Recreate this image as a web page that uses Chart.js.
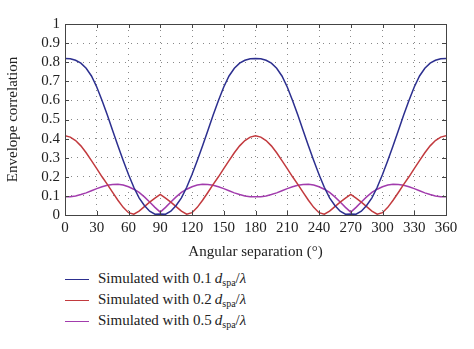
<!DOCTYPE html>
<html>
<head>
<meta charset="utf-8">
<script src="https://cdn.jsdelivr.net/npm/chart.js@4/dist/chart.umd.min.js"></script>
<style>
  body { margin: 0; background: #fff; }
  #wrap { position: relative; width: 474px; height: 265px; }
  #legend { position: absolute; left: 65px; top: 268px; font-family: "Liberation Serif", serif; font-size: 15px; color: #222; }
  .row { height: 21px; line-height: 21px; white-space: nowrap; }
  .sw { display: inline-block; width: 24px; height: 0; border-top: 1.5px solid; vertical-align: middle; margin-right: 9px; }
  sub { font-size: 10px; vertical-align: -3px; line-height: 0; }
</style>
</head>
<body>
<div id="wrap"><canvas id="chart"></canvas></div>
<div id="legend"></div>
<script>
const angles = [0, 5, 10, 15, 20, 25, 30, 35, 40, 45, 50, 55, 60, 65, 70, 75, 80, 85, 90,
	95, 100, 105, 110, 115, 120, 125, 130, 135, 140, 145, 150, 155, 160, 165, 170, 175, 180,
	185, 190, 195, 200, 205, 210, 215, 220, 225, 230, 235, 240, 245, 250, 255, 260, 265, 270,
	275, 280, 285, 290, 295, 300, 305, 310, 315, 320, 325, 330, 335, 340, 345, 350, 355, 360];

const blueData = [0.82, 0.818, 0.81, 0.795, 0.768, 0.728, 0.67, 0.6, 0.523, 0.443, 0.363, 0.285, 0.212, 0.145, 0.09, 0.05, 0.02, 0.004, 0.005,
	0.004, 0.02, 0.05, 0.09, 0.145, 0.212, 0.285, 0.363, 0.443, 0.523, 0.6, 0.67, 0.728, 0.768, 0.795, 0.81, 0.818, 0.82,
	0.818, 0.81, 0.795, 0.768, 0.728, 0.67, 0.6, 0.523, 0.443, 0.363, 0.285, 0.212, 0.145, 0.09, 0.05, 0.02, 0.004, 0.005,
	0.004, 0.02, 0.05, 0.09, 0.145, 0.212, 0.285, 0.363, 0.443, 0.523, 0.6, 0.67, 0.728, 0.768, 0.795, 0.81, 0.818, 0.82];

const redData = [0.415, 0.408, 0.39, 0.362, 0.326, 0.285, 0.243, 0.2, 0.16, 0.118, 0.077, 0.04, 0.012, 0.004, 0.02, 0.044, 0.067, 0.088, 0.108,
	0.088, 0.067, 0.044, 0.02, 0.004, 0.012, 0.04, 0.077, 0.118, 0.16, 0.2, 0.243, 0.285, 0.326, 0.362, 0.39, 0.408, 0.415,
	0.408, 0.39, 0.362, 0.326, 0.285, 0.243, 0.2, 0.16, 0.118, 0.077, 0.04, 0.012, 0.004, 0.02, 0.044, 0.067, 0.088, 0.108,
	0.088, 0.067, 0.044, 0.02, 0.004, 0.012, 0.04, 0.077, 0.118, 0.16, 0.2, 0.243, 0.285, 0.326, 0.362, 0.39, 0.408, 0.415];

const purpleData = [0.095, 0.096, 0.1, 0.107, 0.116, 0.127, 0.138, 0.148, 0.156, 0.16, 0.161, 0.157, 0.148, 0.135, 0.118, 0.095, 0.068, 0.04, 0.015,
	0.04, 0.068, 0.095, 0.118, 0.135, 0.148, 0.157, 0.161, 0.16, 0.156, 0.148, 0.138, 0.127, 0.116, 0.107, 0.1, 0.096, 0.095,
	0.096, 0.1, 0.107, 0.116, 0.127, 0.138, 0.148, 0.156, 0.16, 0.161, 0.157, 0.148, 0.135, 0.118, 0.095, 0.068, 0.04, 0.015,
	0.04, 0.068, 0.095, 0.118, 0.135, 0.148, 0.157, 0.161, 0.16, 0.156, 0.148, 0.138, 0.127, 0.116, 0.107, 0.1, 0.096, 0.095];

const spacings = ["0.1", "0.2", "0.5"];
const colors = ["#2c2f8f", "#c23a3e", "#a23cad"];

const toPoints = (values) => values.map((v, i) => ({ x: angles[i], y: v }));

// box round the plot and inward tick marks on all four sides
const framePlugin = {
	id: "frame",
	afterDraw(chart) {
		const { ctx, chartArea: a, scales } = chart;
		ctx.save();
		ctx.strokeStyle = "#444";
		ctx.lineWidth = 1;
		ctx.strokeRect(a.left + 0.5, a.top + 0.5, a.right - a.left, a.bottom - a.top);
		ctx.beginPath();
		scales.x.ticks.forEach((t) => {
			const px = Math.round(scales.x.getPixelForValue(t.value)) + 0.5;
			ctx.moveTo(px, a.bottom); ctx.lineTo(px, a.bottom - 4);
			ctx.moveTo(px, a.top); ctx.lineTo(px, a.top + 4);
		});
		scales.y.ticks.forEach((t) => {
			const py = Math.round(scales.y.getPixelForValue(t.value)) + 0.5;
			ctx.moveTo(a.left, py); ctx.lineTo(a.left + 4, py);
			ctx.moveTo(a.right, py); ctx.lineTo(a.right - 4, py);
		});
		ctx.stroke();
		ctx.restore();
	},
};

const serif = "'Liberation Serif', 'Times New Roman', serif";

const chart = new Chart(document.getElementById("chart"), {
	type: "line",
	plugins: [framePlugin],
	data: {
		datasets: [blueData, redData, purpleData].map((values, i) => ({
			label: `Simulated with ${spacings[i]} dspa/λ`,
			data: toPoints(values),
			borderColor: colors[i],
			borderWidth: 1.5,
			pointRadius: 0,
			tension: 0,
			fill: false,
		})),
	},
	options: {
		responsive: true,
		maintainAspectRatio: false,
		animation: false,
		layout: { padding: { top: 24, right: 28, left: 0, bottom: 0 } },
		plugins: { legend: { display: false }, tooltip: { enabled: false } },
		scales: {
			x: {
				type: "linear",
				min: 0,
				max: 360,
				ticks: { stepSize: 30, autoSkip: false, color: "#222", font: { family: serif, size: 15 }, padding: 4, maxRotation: 0 },
				grid: { color: "#888", lineWidth: 1, drawTicks: false, tickLength: 0 },
				border: { display: false, dash: [1, 5] },
				title: { display: true, text: "Angular separation (°)", color: "#222", font: { family: serif, size: 15 }, padding: { top: 4 } },
				afterFit: (s) => { s.height = 50; },
			},
			y: {
				min: 0,
				max: 1,
				ticks: {
					stepSize: 0.1,
					autoSkip: false,
					color: "#222",
					font: { family: serif, size: 15 },
					padding: 5,
					callback: (value) => String(Number(value.toFixed(1))),
				},
				grid: { color: "#888", lineWidth: 1, drawTicks: false, tickLength: 0 },
				border: { display: false, dash: [1, 5] },
				title: { display: true, text: "Envelope correlation", color: "#222", font: { family: serif, size: 15 }, padding: { bottom: 2 } },
				afterFit: (s) => { s.width = 65; },
			},
		},
	},
});

document.getElementById("legend").innerHTML = spacings
	.map((s, i) => `<div class="row"><span class="sw" style="border-color:${colors[i]}"></span>Simulated with ${s}&thinsp;<i>d</i><sub>spa</sub>/<i>λ</i></div>`)
	.join("");
</script>
</body>
</html>
